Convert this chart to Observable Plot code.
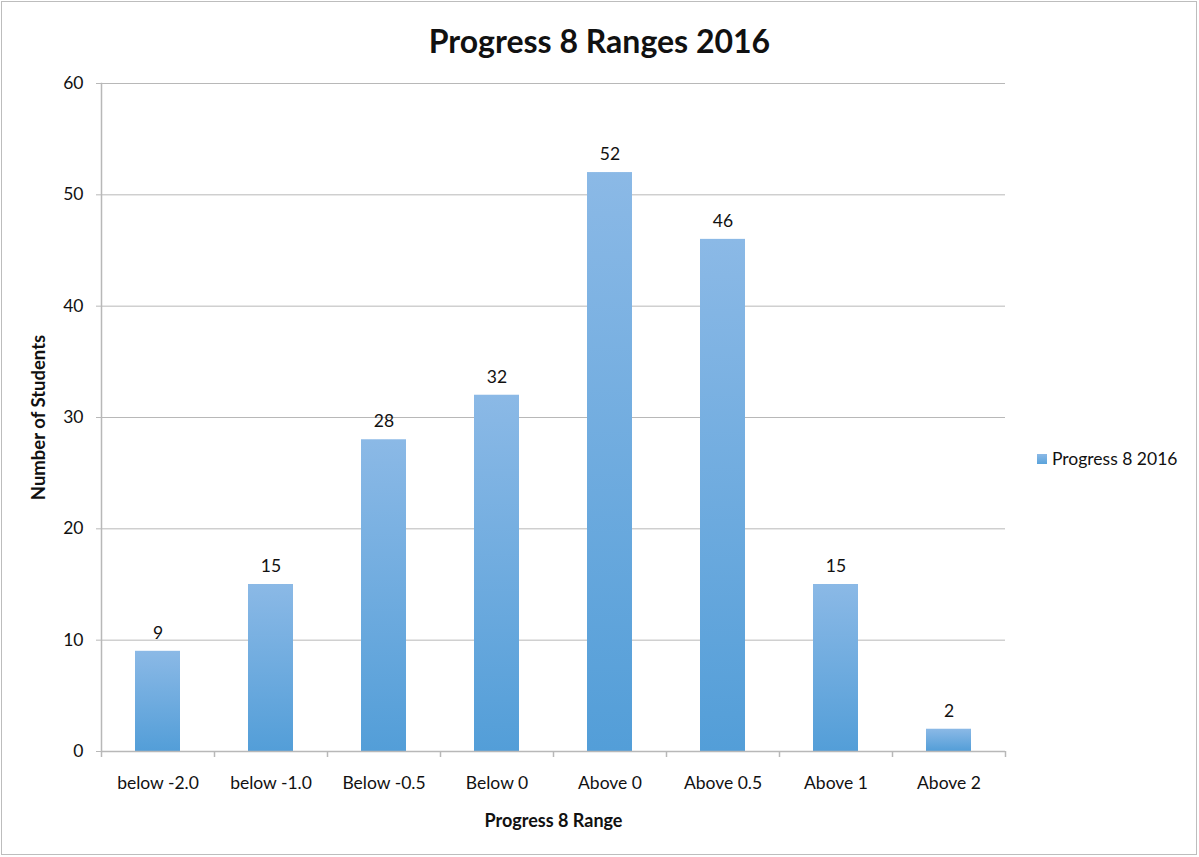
<!DOCTYPE html>
<html><head><meta charset="utf-8">
<script src="https://cdn.jsdelivr.net/npm/d3@7"></script>
<script src="https://cdn.jsdelivr.net/npm/@observablehq/plot@0.6"></script>
<style>
body{margin:0;background:#fff;}
#wrap{position:relative;width:1199px;height:857px;font-family:Lato, "Open Sans", sans-serif;color:#111;}
#border{position:absolute;left:1px;top:1px;width:1194px;height:852px;border:1.5px solid #bdbdbd;pointer-events:none;}
#title{position:absolute;left:0;width:1199px;top:21px;text-align:center;font-size:32px;font-weight:bold;line-height:40px;}
#legend{position:absolute;left:1037px;top:448px;font-size:17.5px;display:flex;align-items:center;line-height:22px;}
#legend .sw{width:10px;height:10px;margin-right:5px;background:linear-gradient(#8bb9e6,#5aa3db);}
#chart{position:absolute;left:0;top:0;}
</style></head><body><div id="wrap"><div id="chart"></div><div id="title"></div><div id="legend"><span class="sw"></span><span id="legtext"></span></div><div id="border"></div></div>
<script>
const categories = ["below -2.0","below -1.0","Below -0.5","Below 0","Above 0","Above 0.5","Above 1","Above 2"];
const values = [9,15,28,32,52,46,15,2];
const yTicks = [0,10,20,30,40,50,60];
const seriesName = "Progress 8 2016";
const chartTitle = "Progress 8 Ranges 2016";
const xTitle = "Progress 8 Range";
const yTitle = "Number of Students";

const data = categories.map((c,i)=>({range:c, students:values[i]}));
const W = 1199, H = 857, mL = 101, mR = 194, mT = 83, mB = 106;
const half = (W - mL - mR) / categories.length / 2;
const gridColor = "#b8b8b8";
const fs = 17.5;

const chart = Plot.plot({
  width: W, height: H,
  marginLeft: mL, marginRight: mR, marginTop: mT, marginBottom: mB,
  style: {fontFamily: "Lato, 'Open Sans', sans-serif", fontSize: fs + "px", color: "#111", background: "white"},
  x: {domain: categories, paddingInner: 0.6, paddingOuter: 0.3, label: null},
  y: {domain: [0, 60], label: null},
  marks: [
    Plot.gridY(yTicks, {stroke: gridColor, strokeOpacity: 1}),
    Plot.barY(data, {x: "range", y: "students", fill: "url(#barGrad)"}),
    Plot.text(data, {x: "range", y: "students", text: d => String(d.students), dy: -18, fontSize: fs, fill: "#111"}),
    Plot.axisY(yTicks, {tickSize: 5, tickPadding: 13, stroke: gridColor, fontSize: fs, fill: "#111"}),
    Plot.axisX({tickSize: 0, tickPadding: 25, fontSize: fs, fill: "#111"}),
    Plot.ruleY([0], {stroke: gridColor, strokeWidth: 1.5}),
    Plot.frame({anchor: "left", stroke: gridColor, strokeWidth: 1.5}),
    Plot.ruleX(categories, {x: d => d, y1: 0, y2: 0, insetTop: 6, dx: -half, stroke: gridColor, strokeWidth: 1.5}),
    Plot.ruleX(categories.slice(-1), {x: d => d, y1: 0, y2: 0, insetTop: 6, dx: half, stroke: gridColor, strokeWidth: 1.5}),
    Plot.text([yTitle], {frameAnchor: "left", textAnchor: "middle", lineAnchor: "middle", dx: -62, rotate: -90, fontWeight: "bold", fontSize: 18.5, fill: "#111"}),
    Plot.text([xTitle], {frameAnchor: "bottom", textAnchor: "middle", lineAnchor: "middle", dy: 70, fontWeight: "bold", fontSize: 18, fill: "#111"})
  ]
});

const svg = d3.select(chart);
const defs = svg.insert("defs", ":first-child");
const g = defs.append("linearGradient").attr("id", "barGrad").attr("x1", 0).attr("y1", 0).attr("x2", 0).attr("y2", 1);
g.append("stop").attr("offset", "0%").attr("stop-color", "#8bb9e6");
g.append("stop").attr("offset", "100%").attr("stop-color", "#539ed8");

document.getElementById("chart").appendChild(chart);
document.getElementById("title").textContent = chartTitle;
document.getElementById("legtext").textContent = seriesName;
</script></body></html>
